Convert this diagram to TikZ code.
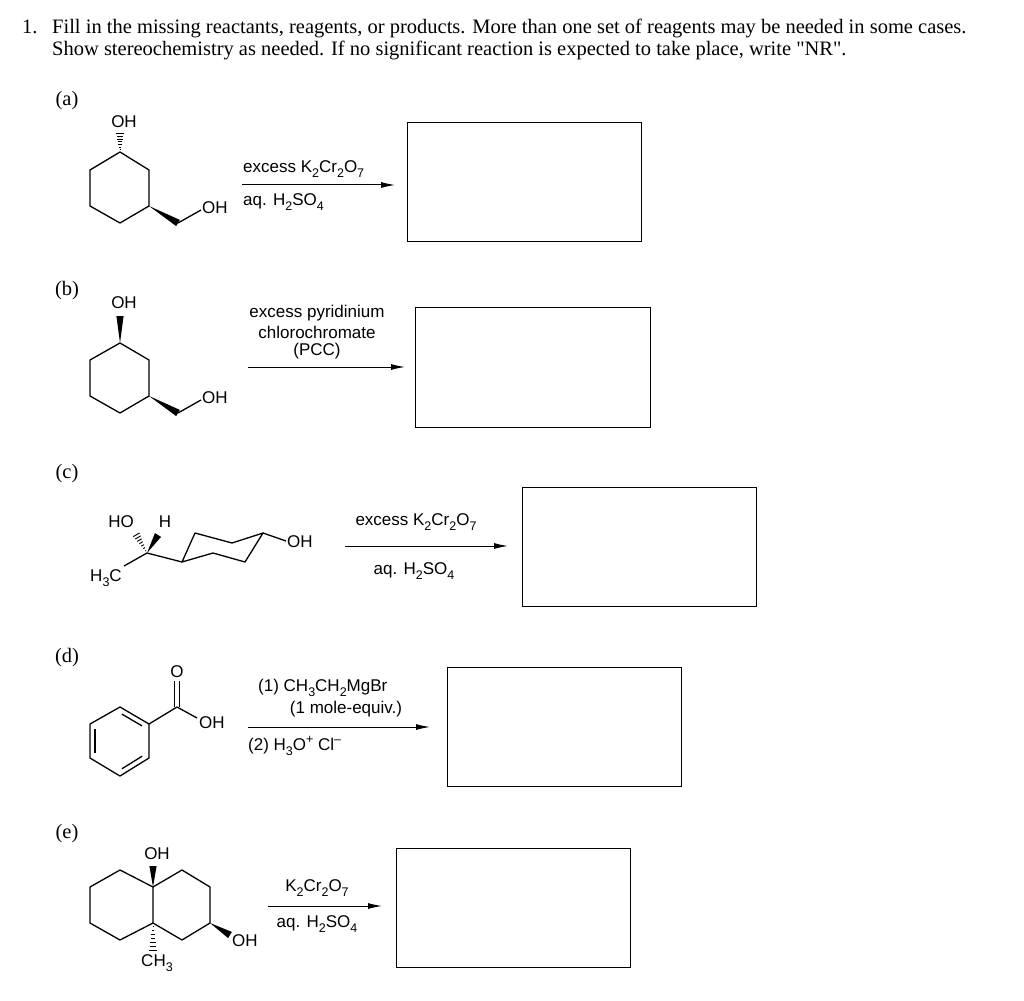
\documentclass[tikz,border=0pt]{standalone}
\usepackage{fontspec}
\setmainfont{Liberation Serif}
\newfontfamily\chemf{Liberation Sans}
\usetikzlibrary{calc,arrows.meta}
\tikzset{
 bond/.style={line width=1.3pt,line join=round},
 lbl/.style={font=\chemf\fontsize{17}{19}\selectfont,inner sep=0pt},
 hdr/.style={font=\fontsize{20.5}{22}\selectfont,inner sep=0pt},
 ans/.style={draw,line width=1pt},
 rxn/.style={line width=1pt,-{Latex[length=14pt,width=6pt]}},
}
\newcommand\sbs[1]{\raisebox{-0.28em}{\fontsize{12.5}{13}\selectfont #1}}
\newcommand\sps[1]{\raisebox{0.45em}{\fontsize{12.5}{13}\selectfont #1}}
\newcommand\wedgeb[2]{\fill (#1) -- ($(#2)!3.6pt!90:(#1)$) -- ($(#2)!3.6pt!-90:(#1)$) -- cycle;}
\newcommand\wedgeh[2]{\foreach \t in {0.12,0.26,...,1.0}{\draw[line width=0.9pt] ($(#1)!\t!($(#2)!3.8pt!90:(#1)$)$) -- ($(#1)!\t!($(#2)!3.8pt!-90:(#1)$)$);}}
\begin{document}
\begin{tikzpicture}[x=1pt,y=-1pt]
\useasboundingbox (0,0) rectangle (1024,1000);
% header
\node[hdr,anchor=base west] (n1) at (22,34) {1.};
\node[hdr,anchor=base west] (h1) at (52,34) {Fill in the missing reactants, reagents, or products. More than one set of reagents may be needed in some cases.};
\node[hdr,anchor=base west] (h2) at (52,56) {Show stereochemistry as needed. If no significant reaction is expected to take place, write \textquotedbl NR\textquotedbl .};
\foreach \l/\y in {a/101,b/291,c/474,d/658,e/834}
  \node[hdr] (lab\l) at (67,\y) {(\l)};

% (a)
\coordinate (a1) at (120,152); \coordinate (a2) at (149,170); \coordinate (a3) at (149,206);
\coordinate (a4) at (120,223); \coordinate (a5) at (90,206); \coordinate (a6) at (90,170);
\draw[bond] (a1)--(a2)--(a3)--(a4)--(a5)--(a6)--cycle;
\node[lbl] (aOH1) at (124,122) {OH};
\coordinate (aO1) at (120,133);
\wedgeh{a1}{aO1}
\coordinate (aC) at (178,223);
\wedgeb{a3}{aC}
\coordinate (aO2) at (201,210);
\draw[bond] (aC)--(aO2);
\node[lbl,anchor=west] (aOH2) at (202,208) {OH};
\draw[rxn] (242,185)--(395,185);
\node[lbl,anchor=west] (at1) at (243,169) {excess K\sbs{2}Cr\sbs{2}O\sbs{7}};
\node[lbl,anchor=west] (at2) at (243,202) {aq. H\sbs{2}SO\sbs{4}};
\node[ans,minimum width=234pt,minimum height=118pt] (boxa) at (524,182) {};

% (b)
\coordinate (b1) at (120,343); \coordinate (b2) at (149,360); \coordinate (b3) at (149,396);
\coordinate (b4) at (120,413); \coordinate (b5) at (90,396); \coordinate (b6) at (90,360);
\draw[bond] (b1)--(b2)--(b3)--(b4)--(b5)--(b6)--cycle;
\node[lbl] (bOH1) at (124,303) {OH};
\coordinate (bO1) at (120,316);
\wedgeb{b1}{bO1}
\coordinate (bC) at (178,413);
\wedgeb{b3}{bC}
\coordinate (bO2) at (201,400);
\draw[bond] (bC)--(bO2);
\node[lbl,anchor=west] (bOH2) at (202,398) {OH};
\draw[rxn] (248,367)--(405,367);
\node[lbl] (bt1) at (317,313) {excess pyridinium};
\node[lbl] (bt2) at (317,332) {chlorochromate};
\node[lbl] (bt3) at (317,351) {(PCC)};
\node[ans,minimum width=235pt,minimum height=120pt] (boxb) at (532.5,367) {};

% (c)
\coordinate (cC) at (147,553);
\coordinate (c1) at (182,562); \coordinate (c2) at (195,533); \coordinate (c3) at (232,543);
\coordinate (c4) at (263,533); \coordinate (c5) at (245,562); \coordinate (c6) at (213,553);
\draw[bond] (c1)--(c2)--(c3)--(c4)--(c5)--(c6)--cycle;
\draw[bond] (cC)--(c1);
\coordinate (cO) at (286,541);
\draw[bond] (c4)--(cO);
\node[lbl,anchor=west] (cOH) at (287,542) {OH};
\node[lbl] (cHO) at (121,522) {HO};
\node[lbl] (cH) at (165,522) {H};
\coordinate (cHOe) at (136,534); \coordinate (cHe) at (158,535);
\wedgeh{cC}{cHOe}
\wedgeb{cC}{cHe}
\coordinate (cMe) at (124,566);
\draw[bond] (cC)--(cMe);
\node[lbl] (cH3C) at (106,578) {H\sbs{3}C};
\draw[rxn] (345,546)--(508,546);
\node[lbl] (ct1) at (416,522) {excess K\sbs{2}Cr\sbs{2}O\sbs{7}};
\node[lbl] (ct2) at (414,571) {aq. H\sbs{2}SO\sbs{4}};
\node[ans,minimum width=234pt,minimum height=119pt] (boxc) at (639,546.5) {};

% (d)
\coordinate (d1) at (120,707); \coordinate (d2) at (149,724); \coordinate (d3) at (149,758);
\coordinate (d4) at (120,776); \coordinate (d5) at (90,758); \coordinate (d6) at (90,724);
\draw[bond] (d1)--(d2)--(d3)--(d4)--(d5)--(d6)--cycle;
\draw[bond] ($(d1)!0.15!(d2)+(-2.5,4.5)$)--($(d1)!0.85!(d2)+(-2.5,4.5)$);
\draw[bond] ($(d3)!0.15!(d4)+(-2.5,-4.5)$)--($(d3)!0.85!(d4)+(-2.5,-4.5)$);
\draw[bond] ($(d5)!0.15!(d6)+(5,0)$)--($(d5)!0.85!(d6)+(5,0)$);
\coordinate (dC) at (177,707);
\draw[bond] (d2)--(dC);
\coordinate (dO) at (177,681);
\draw[bond] ($(dC)+(-2.5,0)$)--($(dO)+(-2.5,0)$);
\draw[bond] ($(dC)+(2.5,0)$)--($(dO)+(2.5,0)$);
\node[lbl] (dOl) at (177,672) {O};
\coordinate (dOH) at (197,718);
\draw[bond] (dC)--(dOH);
\node[lbl,anchor=west] (dOHl) at (199,723) {OH};
\draw[rxn] (248,727)--(430,727);
\node[lbl,anchor=west] (dt1) at (258,688) {(1) CH\sbs{3}CH\sbs{2}MgBr};
\node[lbl] (dt2) at (346,709) {(1 mole-equiv.)};
\node[lbl,anchor=west] (dt3) at (248,746) {(2) H\sbs{3}O\sps{+} Cl\sps{\textendash}};
\node[ans,minimum width=234pt,minimum height=119pt] (boxd) at (564,726.5) {};

% (e)
\coordinate (eT) at (153,887); \coordinate (eB) at (153,923);
\coordinate (e1) at (120,870); \coordinate (e2) at (90,887); \coordinate (e3) at (90,923); \coordinate (e4) at (120,940);
\coordinate (e5) at (182,870); \coordinate (e6) at (210,887); \coordinate (e7) at (210,923); \coordinate (e8) at (182,940);
\draw[bond] (eT)--(e1)--(e2)--(e3)--(e4)--(eB)--cycle;
\draw[bond] (eT)--(e5)--(e6)--(e7)--(e8)--(eB);
\node[lbl] (eOH1) at (157,854) {OH};
\coordinate (eO1) at (153,866);
\wedgeb{eT}{eO1}
\node[lbl] (eMe) at (157,963) {CH\sbs{3}};
\coordinate (eM) at (153,952);
\wedgeh{eB}{eM}
\coordinate (eO2) at (230,935);
\wedgeb{e7}{eO2}
\node[lbl,anchor=west] (eOH2) at (232,941) {OH};
\draw[rxn] (268,906)--(382,906);
\node[lbl] (et1) at (317,888) {K\sbs{2}Cr\sbs{2}O\sbs{7}};
\node[lbl] (et2) at (317,924) {aq. H\sbs{2}SO\sbs{4}};
\node[ans,minimum width=234pt,minimum height=119pt] (boxe) at (513,907.5) {};
\end{tikzpicture}
\end{document}
